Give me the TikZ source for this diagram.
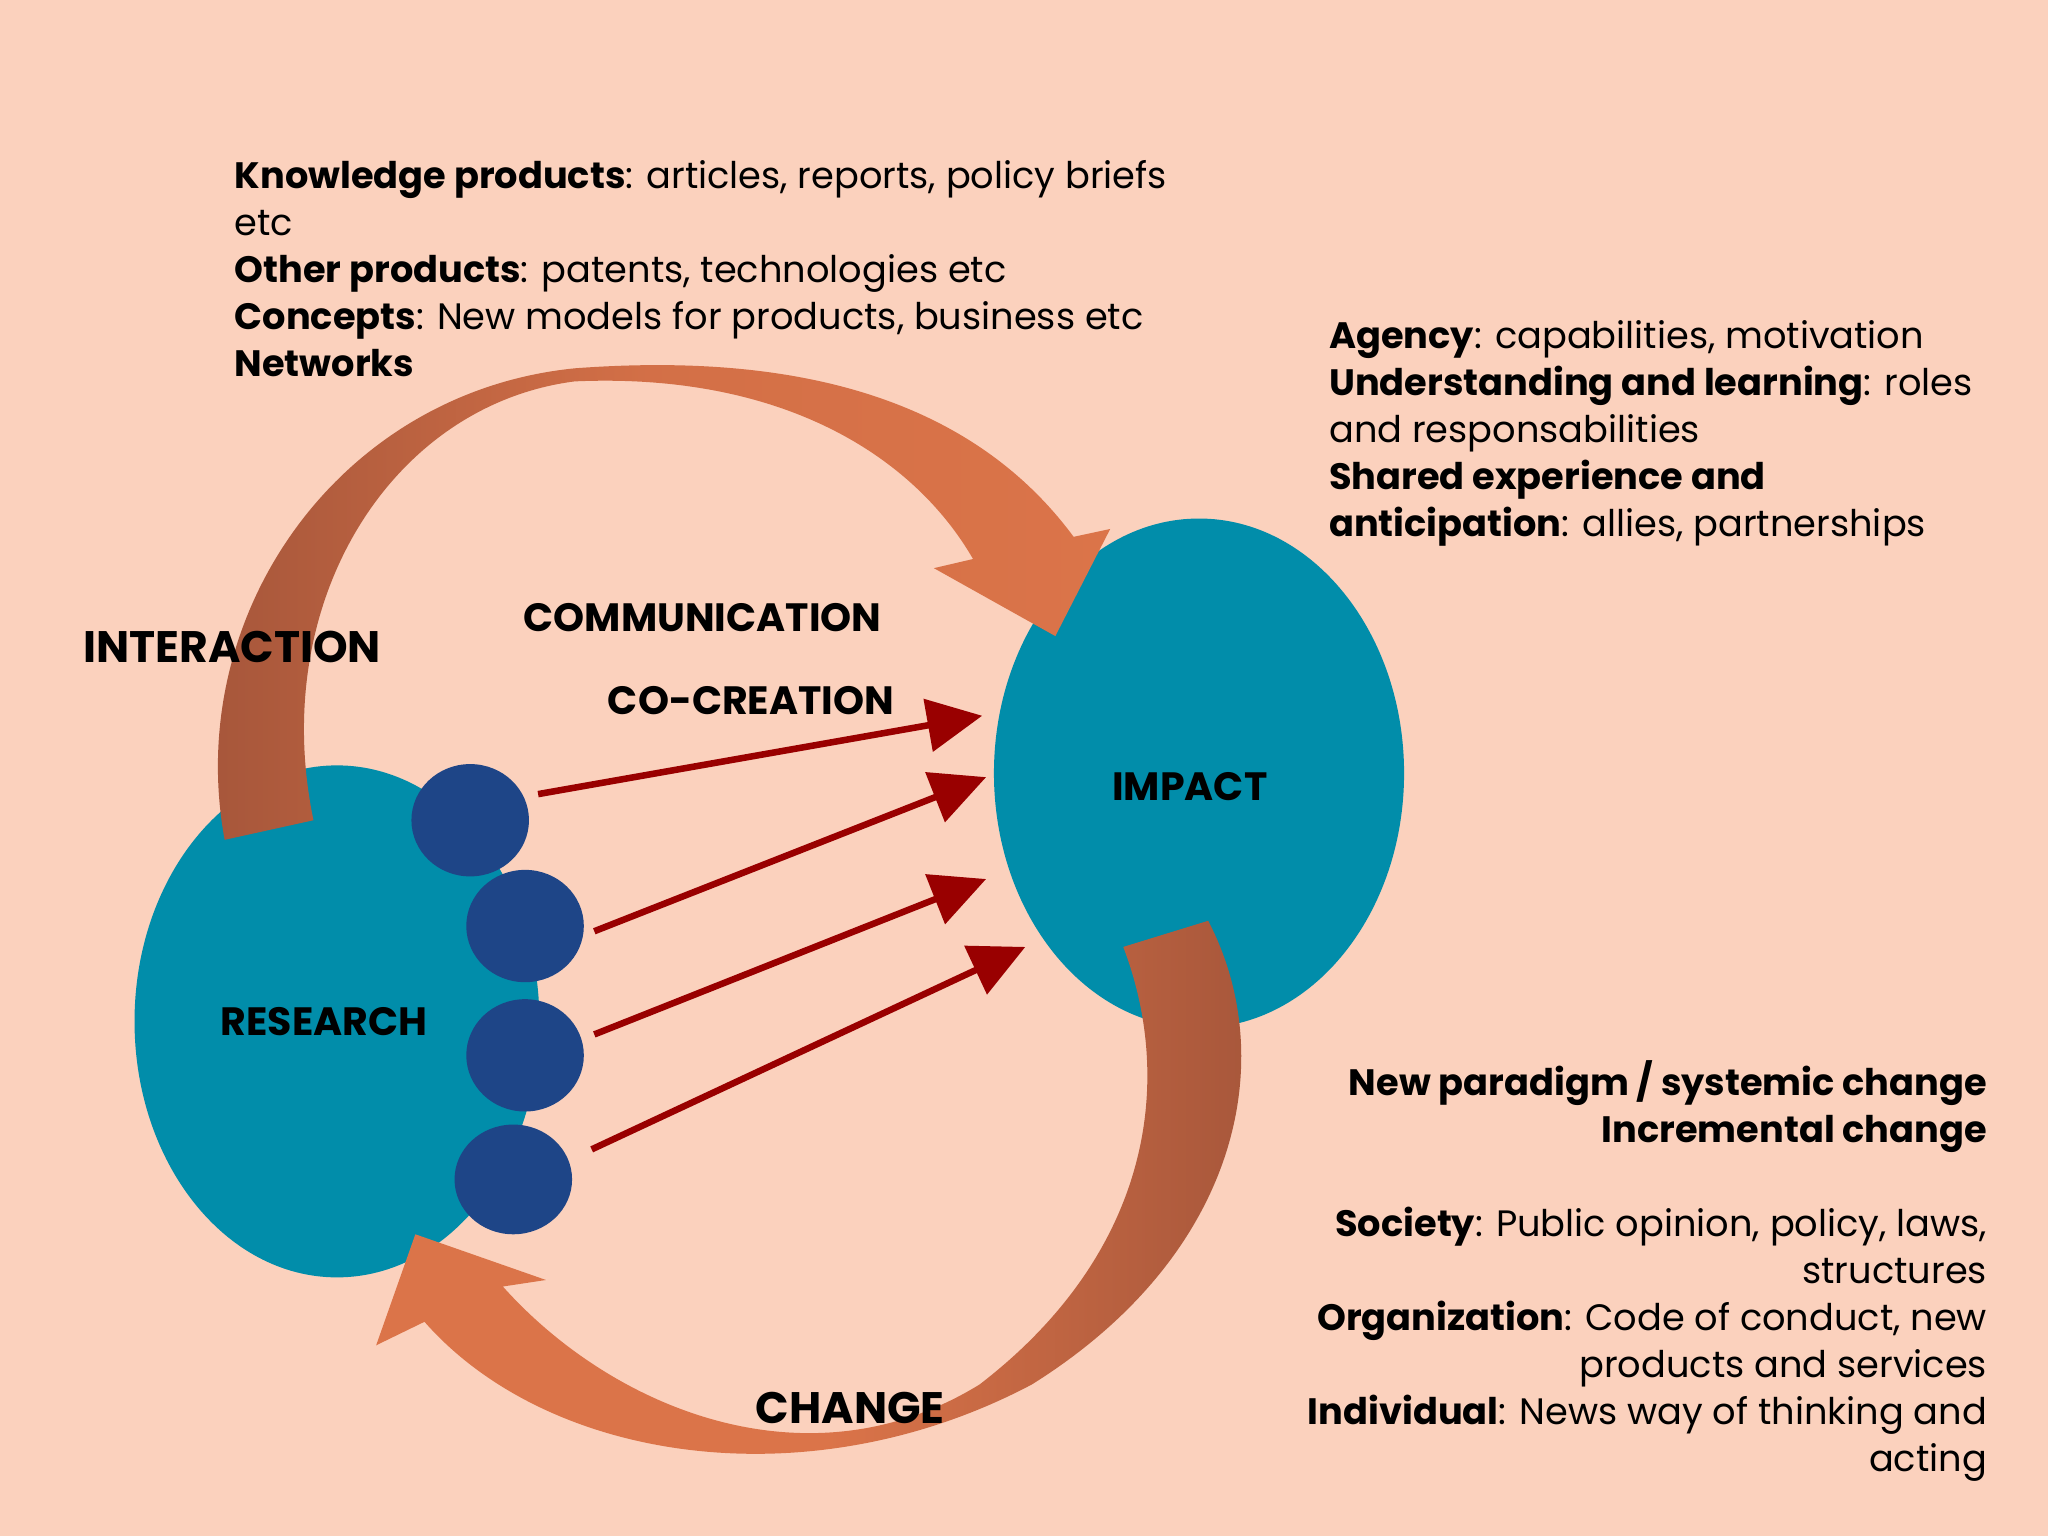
\documentclass[tikz,border=0pt]{standalone}
\usepackage{fontspec}
\setmainfont{Poppins}
\usetikzlibrary{arrows.meta}
\definecolor{bg}{HTML}{FBD1BD}
\definecolor{teal}{HTML}{018DAA}
\definecolor{dblue}{HTML}{1E4587}
\definecolor{dred}{HTML}{990000}
\definecolor{brn}{HTML}{A4553A}
\definecolor{orng}{HTML}{DB7449}
\begin{document}
\begin{tikzpicture}[x=0.01cm,y=-0.01cm,
  txt/.style={inner sep=0pt,font=\fontsize{8}{10}\selectfont},
  tl/.style={txt,anchor=base west},
  tr/.style={txt,anchor=base east},
  lab/.style={inner sep=0pt,font=\fontsize{8.6}{10}\selectfont\bfseries},
  biglab/.style={inner sep=0pt,font=\fontsize{9.6}{11}\selectfont\bfseries},
  dot/.style={fill=dblue,ellipse,minimum width=88,minimum height=84,inner sep=0pt},
  rarrow/.style={draw=dred,line width=0.05cm,-{Triangle[length=0.42cm,width=0.4cm]}}]
\usetikzlibrary{shapes.geometric}
\fill[bg] (0,0) rectangle (1568,1176);
\useasboundingbox (0,0) rectangle (1568,1176);
\fill[teal] (258,782) ellipse [x radius=155,y radius=196];
\fill[teal] (918,592) ellipse [x radius=157,y radius=195];
\node[lab] (research) at (248,782) {RESEARCH};
\node[lab] (impact) at (911,602) {IMPACT};
\fill[dblue] (360,628) ellipse [x radius=45,y radius=43];
\fill[dblue] (402,709) ellipse [x radius=45,y radius=43];
\fill[dblue] (402,808) ellipse [x radius=45,y radius=43];
\fill[dblue] (393,903) ellipse [x radius=45,y radius=42];
\coordinate (a1) at (412,608); \coordinate (b1) at (752,548);
\coordinate (a2) at (455,713); \coordinate (b2) at (755,595);
\coordinate (a3) at (455,792); \coordinate (b3) at (755,673);
\coordinate (a4) at (453,880); \coordinate (b4) at (785,725);
\draw[rarrow] (a1) -- (b1);
\draw[rarrow] (a2) -- (b2);
\draw[rarrow] (a3) -- (b3);
\draw[rarrow] (a4) -- (b4);
% top arc
\shade[left color=brn,right color=orng,middle color=orng!85!brn]
 (240,628) .. controls (205,460) and (300,310) .. (440,292)
 .. controls (600,285) and (700,350) .. (745,428)
 -- (715,435) -- (808,487) -- (850,405) -- (822,411)
 .. controls (740,300) and (600,270) .. (440,282)
 .. controls (260,300) and (140,470) .. (172,643) -- cycle;
% bottom arc
\shade[left color=orng,right color=brn,middle color=orng]
 (860,725) .. controls (900,830) and (880,960) .. (750,1060)
 .. controls (620,1140) and (470,1080) .. (385,985)
 -- (418,980) -- (318,945) -- (288,1030) -- (325,1012)
 .. controls (420,1120) and (620,1150) .. (790,1060)
 .. controls (950,960) and (980,810) .. (925,705) -- cycle;
\node[biglab,anchor=west] (inter) at (63,495) {INTERACTION};
\node[lab] (comm) at (538,473) {COMMUNICATION};
\node[lab] (cocr) at (575,536) {CO-CREATION};
\node[biglab] (change) at (651,1078) {CHANGE};
% top text
\node[tl] (k1) at (179,144) {\textbf{Knowledge products}: articles, reports, policy briefs};
\node[tl] (k2) at (179,180) {etc};
\node[tl] (k3) at (179,216) {\textbf{Other products}: patents, technologies etc};
\node[tl] (k4) at (179,252) {\textbf{Concepts}: New models for products, business etc};
\node[tl] (k5) at (179,288) {\textbf{Networks}};
% right text
\node[tl] (r1) at (1017,267) {\textbf{Agency}: capabilities, motivation};
\node[tl] (r2) at (1017,303) {\textbf{Understanding and learning}: roles};
\node[tl] (r3) at (1017,339) {and responsabilities};
\node[tl] (r4) at (1017,375) {\textbf{Shared experience and}};
\node[tl] (r5) at (1017,411) {\textbf{anticipation}: allies, partnerships};
% bottom right
\node[tr] (s1) at (1522,839) {\textbf{New paradigm / systemic change}};
\node[tr] (s2) at (1522,875) {\textbf{Incremental change}};
\node[tr] (s3) at (1522,947) {\textbf{Society}: Public opinion, policy, laws,};
\node[tr] (s4) at (1522,983) {structures};
\node[tr] (s5) at (1522,1019) {\textbf{Organization}: Code of conduct, new};
\node[tr] (s6) at (1522,1055) {products and services};
\node[tr] (s7) at (1522,1091) {\textbf{Individual}: News way of thinking and};
\node[tr] (s8) at (1522,1127) {acting};
\end{tikzpicture}
\end{document}
